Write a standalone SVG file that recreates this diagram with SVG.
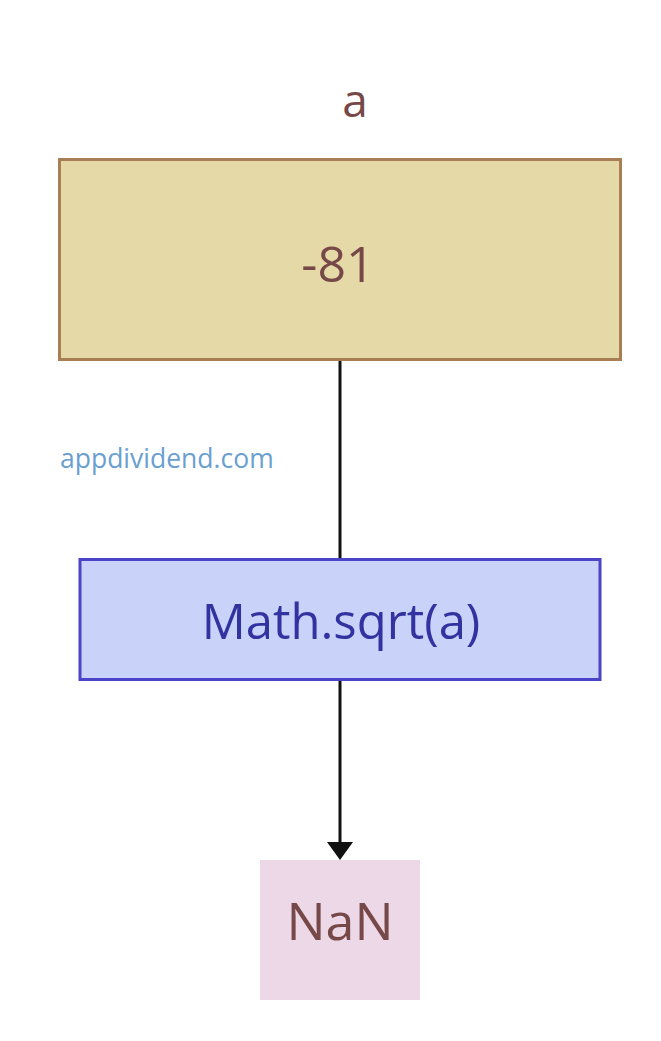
<svg xmlns="http://www.w3.org/2000/svg" width="661" height="1041" viewBox="0 0 661 1041">
<style>
text{font-family:"Open Sans","DejaVu Sans",sans-serif;text-anchor:middle}
.val{fill:#774848}
.edge{stroke:#111;stroke-width:3;fill:none}
</style>
<rect width="661" height="1041" fill="#fff"/>
<g id="connectors">
<line class="edge" x1="340" y1="360" x2="340" y2="559"/>
<line class="edge" x1="340" y1="680" x2="340" y2="845"/>
<path d="M327,842 L353,842 L340,860 z" fill="#111"/>
</g>
<g id="label-a"><text class="val" x="355" y="117" style="font-size:46px">a</text></g>
<g id="node-a">
<rect x="59.5" y="159.5" width="561" height="200" fill="#e5d9a8" stroke="#a87f55" stroke-width="3"/>
<text class="val" x="338" y="282" style="font-size:50px">-81</text>
</g>
<g id="watermark"><text x="60" y="468" style="text-anchor:start;font-size:26.5px;fill:#6a9fd0">appdividend.com</text></g>
<g id="node-sqrt">
<rect x="80" y="559.5" width="520" height="120" fill="#c9d3fa" stroke="#4c44c8" stroke-width="3"/>
<text x="341" y="639" style="font-size:49px;fill:#3232a0">Math.sqrt(a)</text>
</g>
<g id="node-nan">
<rect x="260" y="860" width="160" height="140" fill="#ecd8e6"/>
<text class="val" x="340" y="940" style="font-size:52px">NaN</text>
</g>
</svg>
